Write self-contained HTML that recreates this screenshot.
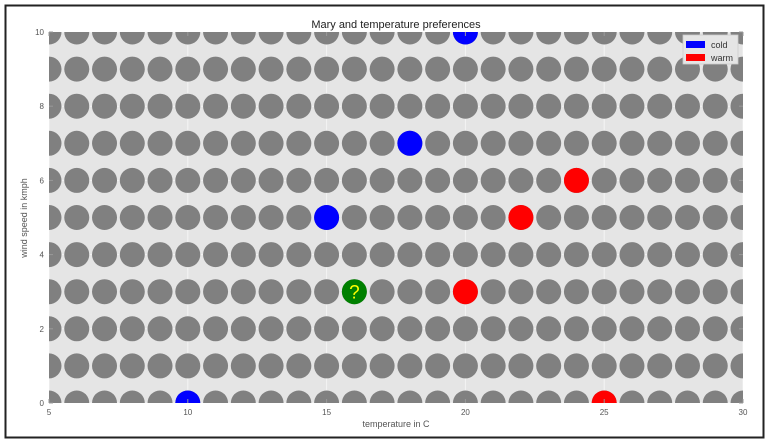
<!DOCTYPE html>
<html><head><style>
html,body{margin:0;padding:0;background:#fff;}
svg{display:block;font-family:"Liberation Sans",sans-serif;}
</style></head><body>
<svg width="768" height="441" viewBox="0 0 768 441" xmlns="http://www.w3.org/2000/svg">
<rect x="0" y="0" width="768" height="441" fill="#fff"/>
<rect x="5.5" y="5.5" width="758" height="432" fill="none" stroke="#222" stroke-width="2"/>
<defs><clipPath id="c"><rect x="49" y="32" width="694" height="371"/></clipPath></defs>
<rect x="49" y="32" width="694" height="371" fill="#e5e5e5"/>
<g id="pts" clip-path="url(#c)"></g>
<g font-size="8" fill="#555" id="ticks"></g>
<text x="396" y="28" font-size="11" text-anchor="middle" fill="#222">Mary and temperature preferences</text>
<text x="396" y="427" font-size="9" text-anchor="middle" fill="#555">temperature in C</text>
<text x="27" y="218" font-size="9" text-anchor="middle" fill="#555" transform="rotate(-90 27 218)">wind speed in kmph</text>
<rect x="683" y="35" width="55" height="29" fill="#e5e5e5" stroke="#ccc" stroke-width="0.8"/>
<rect x="686" y="41" width="19" height="7" fill="#0000ff"/>
<rect x="686" y="54" width="19" height="7" fill="#ff0000"/>
<text x="711" y="48" font-size="9" fill="#333">cold</text>
<text x="711" y="61" font-size="9" fill="#333">warm</text>
<script>
var ns="http://www.w3.org/2000/svg",g=document.getElementById('pts'),t=document.getElementById('ticks');
function X(v){return 49+(v-5)*27.76;}function Y(v){return 403-v*37.1;}
function el(p,n,a){var e=document.createElementNS(ns,n);for(var k in a)e.setAttribute(k,a[k]);p.appendChild(e);return e;}
for(var i=5;i<=30;i+=5)el(g,'line',{x1:X(i),x2:X(i),y1:32,y2:403,stroke:'#f4f4f4','stroke-width':1});
for(var j=0;j<=10;j+=2)el(g,'line',{x1:49,x2:743,y1:Y(j),y2:Y(j),stroke:'#f4f4f4','stroke-width':1});
for(var i=5;i<=30;i++)for(var j=0;j<=10;j++)el(g,'circle',{cx:X(i),cy:Y(j),r:12.5,fill:'#808080'});
[[10,0],[15,5],[18,7],[20,10]].forEach(function(p){el(g,'circle',{cx:X(p[0]),cy:Y(p[1]),r:12.5,fill:'#0000ff'});});
[[20,3],[22,5],[24,6],[25,0]].forEach(function(p){el(g,'circle',{cx:X(p[0]),cy:Y(p[1]),r:12.5,fill:'#ff0000'});});
el(g,'circle',{cx:X(16),cy:Y(3),r:12.5,fill:'#008000'});
var q=el(g,'text',{x:X(16),y:Y(3)+7,'font-size':19,'text-anchor':'middle',fill:'#ffff00'});q.textContent='?';
for(var i=5;i<=30;i+=5){var e=el(t,'text',{x:X(i),y:415,'text-anchor':'middle'});e.textContent=i;
 el(t,'line',{x1:X(i),x2:X(i),y1:403,y2:399,stroke:'#999'});el(t,'line',{x1:X(i),x2:X(i),y1:32,y2:36,stroke:'#999'});}
for(var j=0;j<=10;j+=2){var e=el(t,'text',{x:44,y:Y(j)+3,'text-anchor':'end'});e.textContent=j;
 el(t,'line',{x1:49,x2:53,y1:Y(j),y2:Y(j),stroke:'#999'});el(t,'line',{x1:739,x2:743,y1:Y(j),y2:Y(j),stroke:'#999'});}
</script>
</svg>
</body></html>
